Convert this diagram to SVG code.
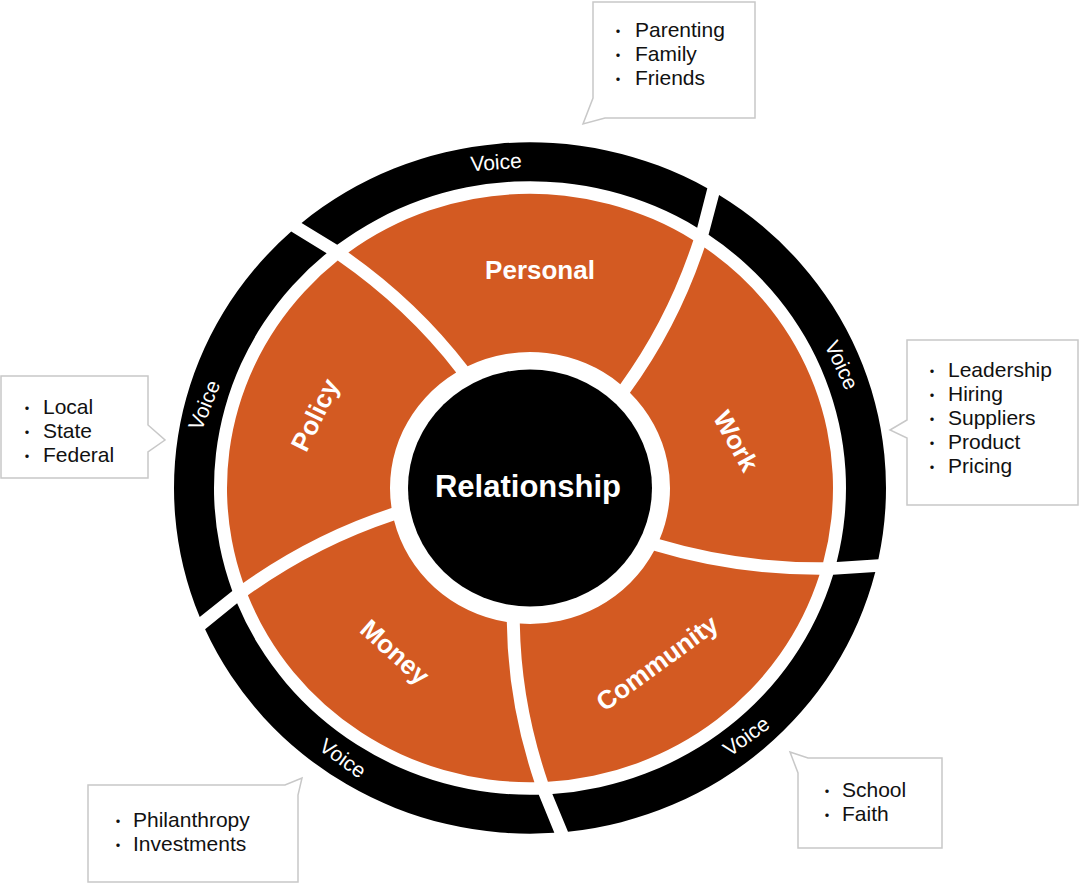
<svg xmlns="http://www.w3.org/2000/svg" width="1080" height="884" viewBox="0 0 1080 884">
<style>
.seg{fill:#D35A22}
.voice{fill:#000}
.lbl{font-family:"Liberation Sans",Arial,sans-serif;font-weight:bold;font-size:26px;fill:#fff;text-anchor:middle}
.vtx{font-family:"Liberation Sans",Arial,sans-serif;font-size:21px;fill:#fff;text-anchor:middle}
.box{fill:#fff;stroke:#c8c8c8;stroke-width:1.5}
.itm{font-family:"Liberation Sans",Arial,sans-serif;font-size:21px;fill:#111}
.bul{font-family:"Noto Sans CJK JP",sans-serif;font-size:16px;fill:#111;text-anchor:middle}
</style>
<defs>
<path id="oseg" d="M139.84,6.68 Q222.42,-4.17 300.32,-40.23 A303,303 0 0 1 143.12,267.07 Q84.99,205.19 49.31,131.03 A140,140 0 0 0 139.84,6.68 Z"/>
<path id="bseg" d="M312.62,-46.13 L349.79,-66.21 A356,356 0 0 1 182.96,305.39 L152.5,276.76 A316,316 0 0 0 312.62,-46.13 Z"/>
</defs>
<rect width="1080" height="884" fill="#fff"/>

<g id="personal">
<g transform="translate(530,488) scale(1,0.971) rotate(-119.2)">
<use href="#oseg" class="seg"/><use href="#bseg" class="voice"/>
</g>
<text class="lbl" x="540" y="279">Personal</text>
<text class="vtx" transform="translate(496,162) rotate(-4)" y="7.5">Voice</text>
</g>

<g id="work">
<g transform="translate(530,488) scale(1,0.971) rotate(-47.2)">
<use href="#oseg" class="seg"/><use href="#bseg" class="voice"/>
</g>
<text class="lbl" transform="translate(736,441) rotate(61)" y="9">Work</text>
<text class="vtx" transform="translate(842,365) rotate(65)" y="7.5">Voice</text>
</g>

<g id="community">
<g transform="translate(530,488) scale(1,0.971) rotate(24.8)">
<use href="#oseg" class="seg"/><use href="#bseg" class="voice"/>
</g>
<text class="lbl" transform="translate(657,663) rotate(-36)" y="9">Community</text>
<text class="vtx" transform="translate(746,736) rotate(-36)" y="7.5">Voice</text>
</g>

<g id="money">
<g transform="translate(530,488) scale(1,0.971) rotate(96.8)">
<use href="#oseg" class="seg"/><use href="#bseg" class="voice"/>
</g>
<text class="lbl" transform="translate(395,652) rotate(42)" y="9">Money</text>
<text class="vtx" transform="translate(343,758) rotate(36)" y="7.5">Voice</text>
</g>

<g id="policy">
<g transform="translate(530,488) scale(1,0.971) rotate(168.8)">
<use href="#oseg" class="seg"/><use href="#bseg" class="voice"/>
</g>
<text class="lbl" transform="translate(315,415) rotate(-64)" y="9">Policy</text>
<text class="vtx" transform="translate(204,405) rotate(-68)" y="7.5">Voice</text>
</g>

<g id="relationship">
<ellipse cx="530" cy="488" rx="122" ry="118.5" fill="#000"/>
<text class="lbl" x="528" y="497" style="font-size:31px">Relationship</text>
</g>

<g id="callout-personal">
<path class="box" d="M593,2 H755 V118 H605 L583,124 L593,98 Z"/>
<text class="bul" x="618" y="37">・</text><text class="itm" x="635" y="37">Parenting</text>
<text class="bul" x="618" y="61">・</text><text class="itm" x="635" y="61">Family</text>
<text class="bul" x="618" y="85">・</text><text class="itm" x="635" y="85">Friends</text>
</g>

<g id="callout-policy">
<path class="box" d="M1,376 H148 V425 L165,440 L148,452 V478 H1 Z"/>
<text class="bul" x="27" y="414">・</text><text class="itm" x="43" y="414">Local</text>
<text class="bul" x="27" y="438">・</text><text class="itm" x="43" y="438">State</text>
<text class="bul" x="27" y="462">・</text><text class="itm" x="43" y="462">Federal</text>
</g>

<g id="callout-work">
<path class="box" d="M907,340 H1078 V505 H907 V438 L890,430 L907,420 Z"/>
<text class="bul" x="932" y="377">・</text><text class="itm" x="948" y="377">Leadership</text>
<text class="bul" x="932" y="401">・</text><text class="itm" x="948" y="401">Hiring</text>
<text class="bul" x="932" y="425">・</text><text class="itm" x="948" y="425">Suppliers</text>
<text class="bul" x="932" y="449">・</text><text class="itm" x="948" y="449">Product</text>
<text class="bul" x="932" y="473">・</text><text class="itm" x="948" y="473">Pricing</text>
</g>

<g id="callout-money">
<path class="box" d="M88,785 H285 L302,778 L298,795 V882 H88 Z"/>
<text class="bul" x="118" y="827">・</text><text class="itm" x="133" y="827">Philanthropy</text>
<text class="bul" x="118" y="851">・</text><text class="itm" x="133" y="851">Investments</text>
</g>

<g id="callout-community">
<path class="box" d="M808,758 H942 V848 H798 V773 L790,752 Z"/>
<text class="bul" x="827" y="797">・</text><text class="itm" x="842" y="797">School</text>
<text class="bul" x="827" y="821">・</text><text class="itm" x="842" y="821">Faith</text>
</g>

<g id="connectors"/>
</svg>
